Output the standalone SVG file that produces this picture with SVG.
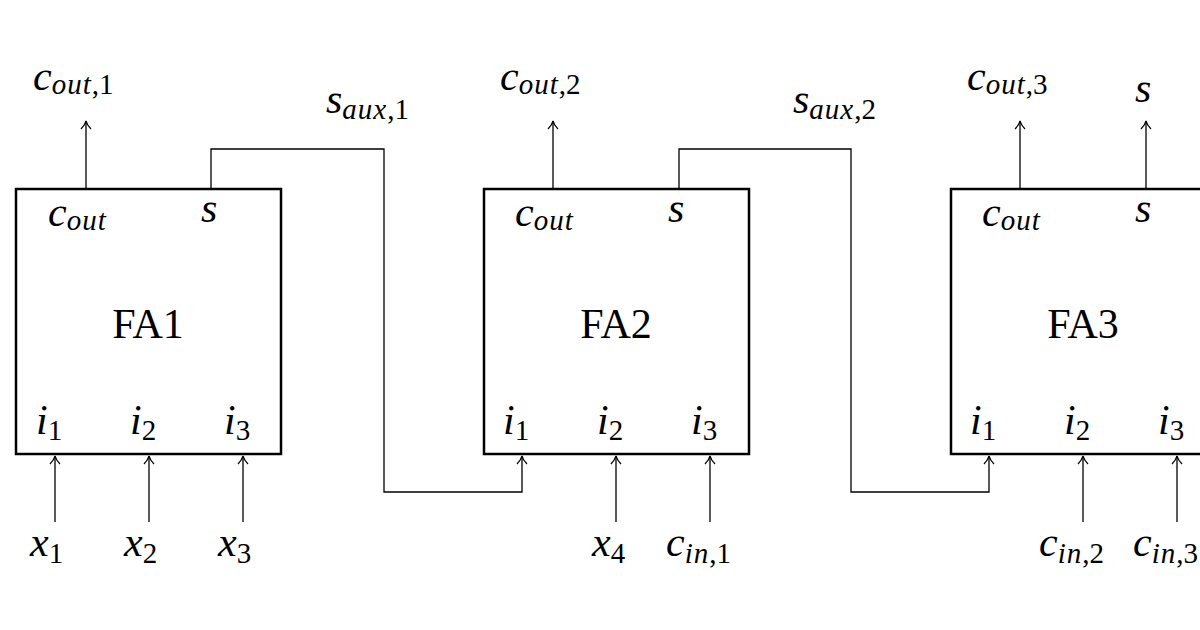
<svg xmlns="http://www.w3.org/2000/svg" width="1200" height="630" viewBox="0 0 1200 630">
<style>
.box{fill:#fff;stroke:#000;stroke-width:2.5}
.w{fill:none;stroke:#000;stroke-width:1.3}
text{font-family:"Liberation Serif","DejaVu Serif",serif;fill:#000}
.m{font-style:italic;font-size:42px}
.sb{font-size:29px;font-style:normal}
.si{font-size:29px;font-style:italic;letter-spacing:1px}
.n{font-size:42px;text-anchor:middle}
</style>
<defs>
<marker id="a" markerWidth="12" markerHeight="12" refX="10" refY="6" orient="auto" markerUnits="userSpaceOnUse">
<path d="M2,1 Q6,5 10,6 Q6,7 2,11" fill="none" stroke="#000" stroke-width="1.2"/>
</marker>
</defs>
<g id="connectors" class="w" marker-end="url(#a)">
<path d="M86,189V121"/>
<path d="M211,189V149H384V492H522V456"/>
<path d="M553,189V121"/>
<path d="M679,189V149H851V492H989V456"/>
<path d="M1020,189V121"/>
<path d="M1146,189V121"/>
<path d="M55,522V456"/><path d="M149,522V456"/><path d="M243,522V456"/>
<path d="M616,522V456"/><path d="M710,522V456"/>
<path d="M1083,522V456"/><path d="M1177,522V456"/>
</g>
<g id="FA1">
<rect class="box" x="16" y="189" width="265" height="265"/>
<text x="48" y="226" class="m">c<tspan class="si" dy="4">out</tspan></text>
<text x="201" y="222" class="m">s</text>
<text x="148" y="338" class="n">FA1</text>
<text x="36" y="434" class="m">i<tspan class="sb" dy="6">1</tspan></text>
<text x="130" y="434" class="m">i<tspan class="sb" dy="6">2</tspan></text>
<text x="224" y="434" class="m">i<tspan class="sb" dy="6">3</tspan></text>
</g>
<g id="FA2">
<rect class="box" x="484" y="189" width="265" height="265"/>
<text x="515" y="226" class="m">c<tspan class="si" dy="4">out</tspan></text>
<text x="668" y="222" class="m">s</text>
<text x="616" y="338" class="n">FA2</text>
<text x="503" y="434" class="m">i<tspan class="sb" dy="6">1</tspan></text>
<text x="597" y="434" class="m">i<tspan class="sb" dy="6">2</tspan></text>
<text x="691" y="434" class="m">i<tspan class="sb" dy="6">3</tspan></text>
</g>
<g id="FA3">
<rect class="box" x="951" y="189" width="265" height="265"/>
<text x="982" y="226" class="m">c<tspan class="si" dy="4">out</tspan></text>
<text x="1135" y="222" class="m">s</text>
<text x="1083" y="338" class="n">FA3</text>
<text x="970" y="434" class="m">i<tspan class="sb" dy="6">1</tspan></text>
<text x="1064" y="434" class="m">i<tspan class="sb" dy="6">2</tspan></text>
<text x="1158" y="434" class="m">i<tspan class="sb" dy="6">3</tspan></text>
</g>
<g id="labels">
<text x="33" y="90" class="m">c<tspan class="si" dy="4">out</tspan><tspan class="sb">,1</tspan></text>
<text x="500" y="90" class="m">c<tspan class="si" dy="4">out</tspan><tspan class="sb">,2</tspan></text>
<text x="967" y="90" class="m">c<tspan class="si" dy="4">out</tspan><tspan class="sb">,3</tspan></text>
<text x="1135" y="102" class="m">s</text>
<text x="326" y="113" class="m">s<tspan class="si" dy="6">aux</tspan><tspan class="sb">,1</tspan></text>
<text x="793" y="113" class="m">s<tspan class="si" dy="6">aux</tspan><tspan class="sb">,2</tspan></text>
<text x="30" y="556" class="m">x<tspan class="sb" dy="7">1</tspan></text>
<text x="124" y="556" class="m">x<tspan class="sb" dy="7">2</tspan></text>
<text x="218" y="556" class="m">x<tspan class="sb" dy="7">3</tspan></text>
<text x="592" y="556" class="m">x<tspan class="sb" dy="7">4</tspan></text>
<text x="666" y="556" class="m">c<tspan class="si" dy="7">in</tspan><tspan class="sb">,1</tspan></text>
<text x="1039" y="556" class="m">c<tspan class="si" dy="7">in</tspan><tspan class="sb">,2</tspan></text>
<text x="1133" y="556" class="m">c<tspan class="si" dy="7">in</tspan><tspan class="sb">,3</tspan></text>
</g>
</svg>
